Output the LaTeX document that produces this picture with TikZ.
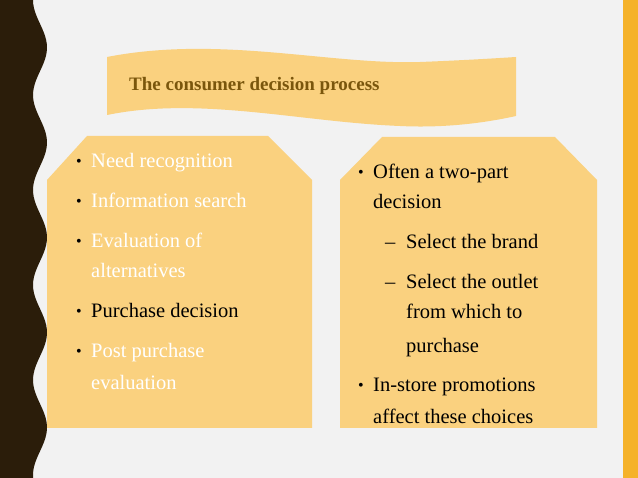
\documentclass[tikz,border=0pt]{standalone}
\usepackage{fontspec}
\setmainfont{Liberation Serif}
\begin{document}
\begin{tikzpicture}[x=1pt,y=-1pt,
  txt/.style={anchor=base west,inner sep=0pt,font=\fontsize{20.5}{24}\selectfont},
  wt/.style={txt,text=white},
  bk/.style={txt,text=black}]
\definecolor{bg}{HTML}{F2F2F2}
\definecolor{boxc}{HTML}{FAD17F}
\definecolor{dark}{HTML}{2B1D0A}
\definecolor{bar}{HTML}{F5B22A}
\definecolor{ttl}{HTML}{7A560C}
\fill[bg] (0,0) rectangle (638,478);
\useasboundingbox (0,0) rectangle (638,478);
% dark wavy strip
\fill[dark] (0,0) -- plot[domain=0:478,samples=120,smooth] ({40-7*cos(\x/95*360)},\x) -- (0,478) -- cycle;
% right bar
\fill[bar] (623,0) rectangle (638,478);
% banner
\fill[boxc] (107,57) .. controls (220,35) and (330,65) .. (420,62) .. controls (470,60) and (500,58) .. (516,57)
  -- (516,116) .. controls (480,124) and (440,128) .. (400,126) .. controls (300,122) and (200,96) .. (107,115) -- cycle;
\node[anchor=base west,inner sep=0pt,text=ttl,font=\bfseries\fontsize{19}{22}\selectfont] (title) at (129,91) {The consumer decision process};
% boxes
\fill[boxc] (87,136) -- (268,136) -- (312,180) -- (312,428) -- (47,428) -- (47,180) -- cycle;
\fill[boxc] (382,137) -- (555,137) -- (597,180) -- (597,428) -- (340,428) -- (340,180) -- cycle;
% left items
\foreach \y in {168,208,248,318,358} \node[bk,font=\fontsize{16}{18}\selectfont] at (76,\y-1) {•};
\node[wt] (a1) at (91,168) {Need recognition};
\node[wt] (a2) at (91,208) {Information search};
\node[wt] (a3) at (91,248) {Evaluation of};
\node[wt] (a4) at (91,278) {alternatives};
\node[bk] (a5) at (91,318) {Purchase decision};
\node[wt] (a6) at (91,358) {Post purchase};
\node[wt] (a7) at (91,390) {evaluation};
% right items
\foreach \y in {179,392} \node[bk,font=\fontsize{16}{18}\selectfont] at (358,\y-1) {•};
\node[bk] (b1) at (373,179) {Often a two-part};
\node[bk] (b2) at (373,209) {decision};
\node[bk] (d1) at (385,249) {–};
\node[bk] (b3) at (406,249) {Select the brand};
\node[bk] (d2) at (385,289) {–};
\node[bk] (b4) at (406,289) {Select the outlet};
\node[bk] (b5) at (406,319) {from which to};
\node[bk] (b6) at (406,353) {purchase};
\node[bk] (b7) at (373,392) {In-store promotions};
\node[bk] (b8) at (373,424) {affect these choices};
\end{tikzpicture}
\end{document}
